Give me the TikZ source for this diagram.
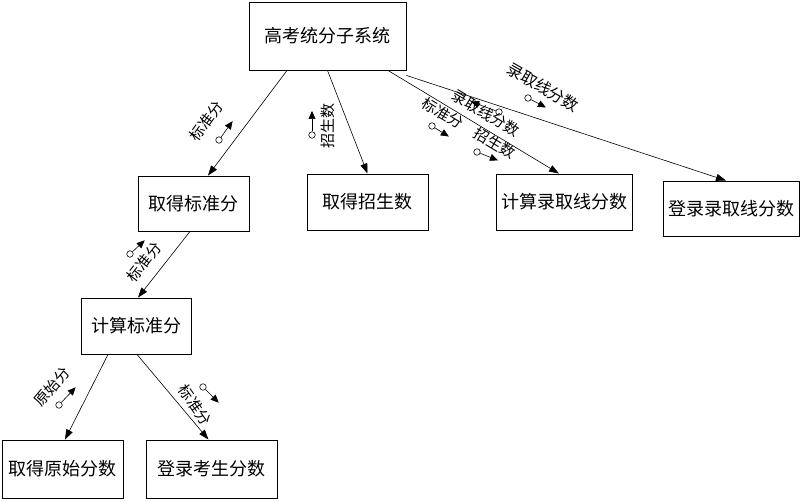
\documentclass[tikz,border=0pt]{standalone}
\usepackage{fontspec}
\setmainfont{Noto Sans CJK SC}
\usetikzlibrary{arrows.meta}
\begin{document}
\begin{tikzpicture}[x=1pt,y=-1pt,
  box/.style={draw,line width=0.9pt,inner sep=0pt,font=\fontsize{18}{21}\selectfont},
  link/.style={-{Triangle[length=10pt,width=7pt]},line width=0.6pt},
  lab/.style={inner sep=0pt,font=\fontsize{15}{17}\selectfont},
  couplec/.style={draw,circle,minimum size=6.5pt,inner sep=0pt,line width=0.6pt},
  couplearr/.style={-{Triangle[length=8pt,width=7pt]},line width=0.6pt,shorten >=-1pt}]
\useasboundingbox (0,0) rectangle (802,502);
% boxes
\node[box,minimum width=157pt,minimum height=68pt] (top) at (327.5,36) {高考统分子系统};
\node[box,minimum width=111pt,minimum height=55pt] (b1) at (193.5,203.5) {取得标准分};
\node[box,minimum width=121pt,minimum height=56pt] (b2) at (367.5,202) {取得招生数};
\node[box,minimum width=136pt,minimum height=56pt] (b3) at (564,202) {计算录取线分数};
\node[box,minimum width=136pt,minimum height=55pt] (b4) at (731,208.5) {登录录取线分数};
\node[box,minimum width=110pt,minimum height=56pt] (b5) at (136,326) {计算标准分};
\node[box,minimum width=121pt,minimum height=58pt] (b6) at (62.5,469) {取得原始分数};
\node[box,minimum width=131pt,minimum height=58pt] (b7) at (211.5,469) {登录考生分数};
% connectors
\draw[link] ([xshift=-40.5pt]top.south) -- ([xshift=14.5pt]b1.north);
\draw[link] (top.south) -- (b2.north);
\draw[link] ([xshift=60.5pt]top.south) -- ([xshift=-5pt]b3.north);
\draw[link] ([yshift=-5pt]top.south east) -- ([xshift=-5pt]b4.north);
\draw[link] ([xshift=-3.5pt]b1.south) -- ([xshift=2pt]b5.north);
\draw[link] ([xshift=-28pt]b5.south) -- ([xshift=2.5pt]b6.north);
\draw[link] ([xshift=1pt]b5.south) -- ([xshift=-3pt]b7.north);
% labels
\node[lab,rotate=54] (l1) at (206,121) {标准分};
\node[lab,rotate=90] (l2) at (328,126) {招生数};
\node[lab,rotate=-31] (l3a) at (486,113) {录取线分数};
\node[lab,rotate=-31] (l3b) at (443,113) {标准分};
\node[lab,rotate=-31] (l3c) at (495,143) {招生数};
\node[lab,font=\fontsize{16}{18}\selectfont,rotate=-30] (l4) at (543,87) {录取线分数};
\node[lab,rotate=52] (l5) at (144,262) {标准分};
\node[lab,rotate=50] (l6) at (52,387) {原始分};
\node[lab,rotate=-55] (l7) at (195,405) {标准分};
% couples
\node[couplec] (c1) at (219,140) {}; \coordinate (t1) at (232,122);
\node[couplec] (c2) at (312,135) {}; \coordinate (t2) at (312,112);
\node[couplec] (c3a) at (499,112) {}; \coordinate (t3a) at (472,102);
\node[couplec] (c3b) at (432,126) {}; \coordinate (t3b) at (448,136);
\node[couplec] (c3c) at (477,152) {}; \coordinate (t3c) at (497,160);
\node[couplec] (c4) at (528,98) {}; \coordinate (t4) at (545,107);
\node[couplec] (c5) at (130,254) {}; \coordinate (t5) at (144,241);
\node[couplec] (c6) at (59,405) {}; \coordinate (t6) at (75,388);
\node[couplec] (c7) at (203,387) {}; \coordinate (t7) at (218,402);
\foreach \k in {1,2,3a,3b,3c,4,5,6,7} {\draw[couplearr] (c\k) -- (t\k);}
\end{tikzpicture}
\end{document}
